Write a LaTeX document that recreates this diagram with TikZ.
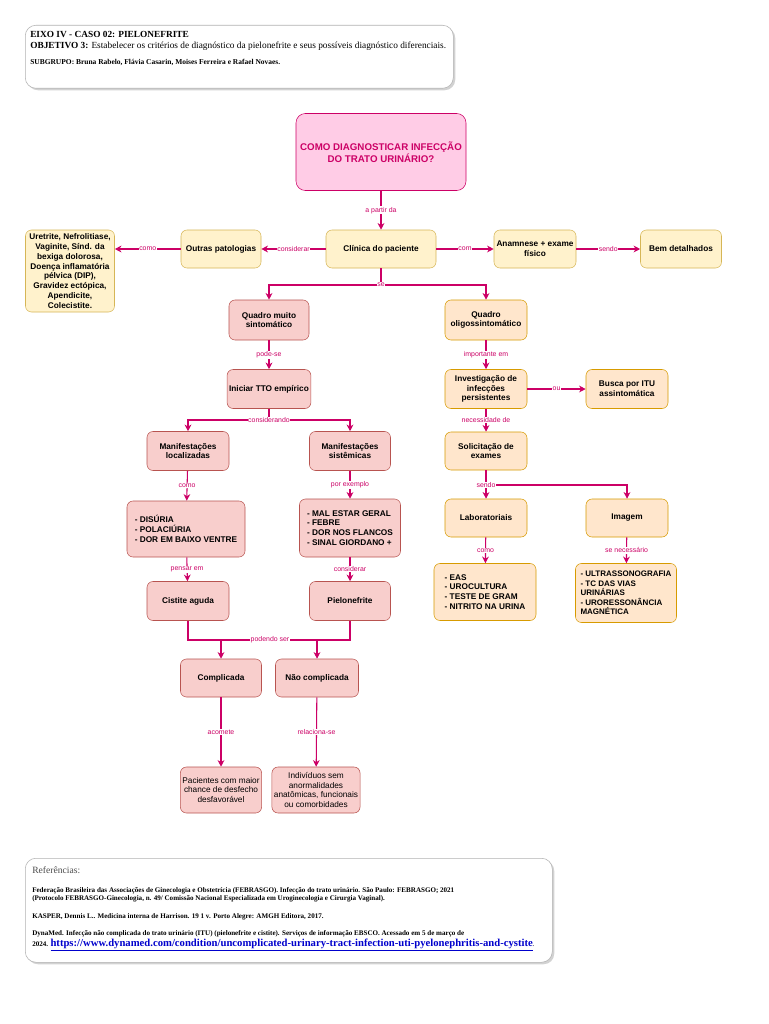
\documentclass[tikz,border=0pt]{standalone}
\usepackage{fontspec}
\setmainfont{Liberation Sans}
\newfontfamily\serifff{Liberation Serif}
\usetikzlibrary{shadows,arrows.meta}
\definecolor{mag}{HTML}{CC0066}
\definecolor{redf}{HTML}{F8CECC}\definecolor{redd}{HTML}{B85450}
\definecolor{orf}{HTML}{FFE6CC}\definecolor{ord}{HTML}{D79B00}
\definecolor{yef}{HTML}{FFF2CC}\definecolor{yed}{HTML}{D6B656}
\definecolor{pkf}{HTML}{FFCCE6}
\begin{document}
\begin{tikzpicture}[x=0.75pt,y=-0.75pt,
 W/.style={minimum width=#1*0.75pt},
 H/.style={minimum height=#1*0.75pt},
 box/.style={draw,rounded corners=4.5pt,align=center,font=\fontsize{6.2}{7.3}\selectfont\bfseries,inner sep=1.5pt},
 red/.style={box,fill=redf,draw=redd},
 ora/.style={box,fill=orf,draw=ord},
 yel/.style={box,fill=yef,draw=yed},
 e/.style={draw=mag,line width=0.8pt,-{Stealth[length=5pt,width=5pt]}},
 l/.style={fill=white,text=mag,font=\fontsize{5.2}{6}\selectfont,inner sep=0.5pt},
 panel/.style={draw=gray!60,rounded corners=8pt,fill=white,drop shadow={shadow xshift=1.5pt,shadow yshift=-1.5pt,opacity=0.35}}]
\useasboundingbox (0,0) rectangle (768,1024);
\fill[white] (0,0) rectangle (768,1024);
% header
\node[panel,W=428,H=63,anchor=north west] (hdr) at (25,25) {};
\node[anchor=north west,align=left,font=\serifff\fontsize{7}{8}\selectfont,inner sep=0] (ht) at (30,31)
 {\textbf{EIXO IV - CASO 02: PIELONEFRITE}\\\textbf{OBJETIVO 3:} Estabelecer os critérios de diagnóstico da pielonefrite e seus possíveis diagnóstico diferenciais.\\[4pt]{\fontsize{5.6}{7}\selectfont\textbf{SUBGRUPO: Bruna Rabelo, Flávia Casarin, Moises Ferreira e Rafael Novaes.}}};
% references
\node[panel,W=527,H=104,anchor=north west] (ref) at (25,858) {};
\node[anchor=north west,align=left,font=\serifff\fontsize{5.3}{6.3}\selectfont,inner sep=0] (rt) at (32,866)
 {{\fontsize{7.2}{8}\selectfont\color{gray!60!black}Referências:}\\[8pt]
 \textbf{Federação Brasileira das Associações de Ginecologia e Obstetrícia (FEBRASGO). Infecção do trato urinário. São Paulo: FEBRASGO; 2021}\\
 \textbf{(Protocolo FEBRASGO-Ginecologia, n. 49/ Comissão Nacional Especializada em Uroginecologia e Cirurgia Vaginal).}\\[7pt]
 \textbf{KASPER, Dennis L.. Medicina interna de Harrison. 19 1 v. Porto Alegre: AMGH Editora, 2017.}\\[7pt]
 \textbf{DynaMed. Infecção não complicada do trato urinário (ITU) (pielonefrite e cistite). Serviços de informação EBSCO. Acessado em 5 de março de}\\
 \textbf{2024.} {\fontsize{8}{9}\selectfont\bfseries\color{blue!80!black}\underline{https://www.dynamed.com/condition/uncomplicated-urinary-tract-infection-uti-pyelonephritis-and-cystite}}.};
% nodes
\node[box,fill=pkf,draw=mag,text=mag,font=\fontsize{7.3}{8.8}\selectfont\bfseries,W=170,H=77,rounded corners=7pt] (t) at (381,152) {COMO DIAGNOSTICAR INFECÇÃO\\DO TRATO URINÁRIO?};
\node[yel,W=80,H=38] (op) at (221,249) {Outras patologias};
\node[yel,W=110,H=38] (cp) at (381,249) {Clínica do paciente};
\node[yel,W=82,H=38] (an) at (535,249) {Anamnese + exame\\físico};
\node[yel,W=81,H=38] (bd) at (681,249) {Bem detalhados};
\node[yel,W=89,H=82] (ur) at (70,271) {Uretrite, Nefrolitiase,\\Vaginite, Sínd. da\\bexiga dolorosa,\\Doença inflamatória\\pélvica (DIP),\\Gravidez ectópica,\\Apendicite,\\Colecistite.};
\node[red,W=80,H=40] (qm) at (269,320) {Quadro muito\\sintomático};
\node[ora,W=82,H=40] (qo) at (486,320) {Quadro\\oligossintomático};
\node[red,W=80,H=39] (it) at (269,389) {Iniciar TTO empírico};
\node[ora,W=82,H=39] (iv) at (486,389) {Investigação de\\infecções\\persistentes};
\node[ora,W=82,H=39] (bi) at (627,389) {Busca por ITU\\assintomática};
\node[red,W=82,H=39] (ml) at (188,451) {Manifestações\\localizadas};
\node[red,W=81,H=39] (ms) at (350,451) {Manifestações\\sistêmicas};
\node[ora,W=82,H=38] (so) at (486,451) {Solicitação de\\exames};
\node[red,W=118,H=56,align=left] (di) at (186,529) {- DISÚRIA\\- POLACIÚRIA\\- DOR EM BAIXO VENTRE};
\node[red,W=101,H=58,align=left] (me) at (350,528) {- MAL ESTAR GERAL\\- FEBRE\\- DOR NOS FLANCOS\\- SINAL GIORDANO +};
\node[ora,W=82,H=38] (lb) at (486,518) {Laboratoriais};
\node[ora,W=82,H=38] (im) at (627,518) {Imagem};
\node[red,W=82,H=39] (ci) at (188,601) {Cistite aguda};
\node[red,W=81,H=39] (pi) at (350,601) {Pielonefrite};
\node[ora,W=102,H=57,align=left] (ea) at (485,592) {- EAS\\- UROCULTURA\\- TESTE DE GRAM\\- NITRITO NA URINA};
\node[ora,W=101,H=59,align=left,font=\fontsize{6}{7.1}\selectfont\bfseries] (us) at (626,593) {- ULTRASSONOGRAFIA\\- TC DAS VIAS\\URINÁRIAS\\- URORESSONÂNCIA\\MAGNÉTICA};
\node[red,W=81,H=38] (co) at (221,678) {Complicada};
\node[red,W=83,H=38] (nc) at (317,678) {Não complicada};
\node[red,W=81,H=46,font=\fontsize{6.2}{7.3}\selectfont] (pa) at (221,790) {Pacientes com maior\\chance de desfecho\\desfavorável};
\node[red,W=87,H=46,font=\fontsize{6.2}{7.3}\selectfont] (in) at (316,790) {Indivíduos sem\\anormalidades\\anatômicas, funcionais\\ou comorbidades};
% edges
\draw[e] (t) -- node[l]{a partir da} (cp);
\draw[e] (cp) -- node[l]{considerar} (op);
\draw[e] (op.west) -- node[l]{como} (op.west -| ur.east);
\draw[e] (cp) -- node[l]{com} (an);
\draw[e] (an) -- node[l]{sendo} (bd);
\coordinate (s1) at (381,285);
\draw[e] (cp) -- (s1) -| (qm);
\draw[e] (s1) -| (qo);
\node[l] at (s1) {se};
\draw[e] (qm) -- node[l]{pode-se} (it);
\draw[e] (qo) -- node[l]{importante em} (iv);
\draw[e] (iv) -- node[l]{ou} (bi);
\coordinate (s2) at (269,420);
\draw[e] (it) -- (s2) -| (ml);
\draw[e] (s2) -| (ms);
\node[l] at (s2) {considerando};
\draw[e] (iv) -- node[l]{necessidade de} (so);
\coordinate (s3) at (486,485);
\draw[e] (so) -- (s3) -- (lb);
\draw[e] (s3) -| (im);
\node[l] at (s3) {sendo};
\draw[e] (ml) -- node[l]{como} (di);
\draw[e] (ms) -- node[l]{por exemplo} (me);
\draw[e] (lb) -- node[l]{como} (ea);
\draw[e] (im) -- node[l]{se necessário} (us);
\draw[e] (di) -- node[l]{pensar em} (ci);
\draw[e] (me) -- node[l]{considerar} (pi);
\coordinate (s4) at (270,640);
\draw[draw=mag,line width=0.8pt] (ci) |- (s4) -| (pi);
\draw[e] (s4) -| (co);
\draw[e] (s4) -| (nc);
\node[l] at (s4) {podendo ser};
\draw[e] (co) -- node[l]{acomete} (pa);
\draw[e] (nc) -- node[l]{relaciona-se} (in);
\end{tikzpicture}
\end{document}
